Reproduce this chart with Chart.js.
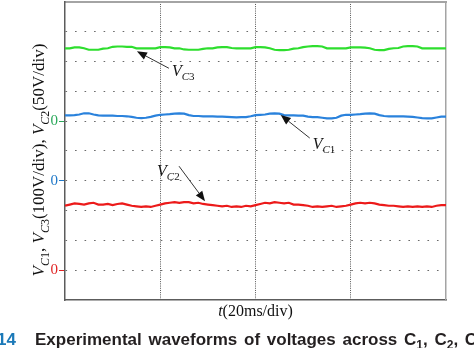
<!DOCTYPE html>
<html>
<head>
<meta charset="utf-8">
<script src="https://cdn.jsdelivr.net/npm/chart.js@4.4.1/dist/chart.umd.min.js"></script>
<style>
  html, body { margin: 0; padding: 0; background: #fff; }
  #wrap { position: relative; width: 474px; height: 348px; overflow: hidden; background: #fff; }
  #scope { position: absolute; left: 0; top: 0; }
  #caption { position: absolute; left: 0; top: 330px; width: 474px; height: 30px; white-space: nowrap;
             font: bold 17px "Liberation Sans", Arial, sans-serif; color: #231f20; }
  #caption .num { position: absolute; left: -3px; top: 0; color: #1b79b8; }
  #caption .txt { position: absolute; left: 35px; top: 0; word-spacing: 2px; }
  #caption sub { font-size: 12px; }
</style>
</head>
<body>
<div id="wrap">
  <canvas id="scope" width="474" height="348"></canvas>
  <div id="caption"><span class="num">14</span><span class="txt">Experimental waveforms of voltages across C<sub>1</sub>, C<sub>2</sub>, C<sub>3</sub></span></div>
</div>
<script>
// Sample times (ms), 1 ms apart over four 20 ms divisions
const timeMs = [
  0, 1, 2, 3, 4, 5, 6, 7, 8, 9, 10, 11, 12, 13, 14, 15, 16, 17, 18, 19,
  20, 21, 22, 23, 24, 25, 26, 27, 28, 29, 30, 31, 32, 33, 34, 35, 36, 37, 38, 39,
  40, 41, 42, 43, 44, 45, 46, 47, 48, 49, 50, 51, 52, 53, 54, 55, 56, 57, 58, 59,
  60, 61, 62, 63, 64, 65, 66, 67, 68, 69, 70, 71, 72, 73, 74, 75, 76, 77, 78, 79, 80
];

// Capacitor voltage V_C3 (V)
const vC3 = [
  244, 244, 247, 247, 244, 239, 239, 239, 243, 244, 249, 250, 250, 249, 249, 244, 244, 244, 244, 244,
  248, 248, 247, 244, 244, 240, 239, 239, 239, 242, 244, 244, 247, 248, 248, 245, 244, 244, 244, 244,
  248, 248, 247, 244, 239, 238, 238, 239, 243, 244, 248, 250, 251, 251, 250, 244, 244, 244, 244, 244,
  247, 247, 247, 246, 244, 239, 238, 238, 242, 244, 245, 250, 251, 251, 250, 244, 244, 244, 244, 244, 244
];

// Capacitor voltage V_C1 (V)
const vC1 = [
  219, 219, 220, 222, 226, 226, 222, 219, 218, 218, 218, 217, 217, 216, 214, 211, 210, 211, 214, 218,
  221, 222, 223, 225, 226, 225, 220, 217, 217, 216, 216, 216, 215, 215, 214, 213, 212, 213, 213, 216,
  220, 221, 222, 225, 226, 225, 220, 219, 219, 218, 218, 215, 213, 213, 211, 209, 209, 211, 218, 221,
  221, 222, 223, 225, 226, 225, 220, 217, 216, 216, 216, 216, 215, 214, 212, 210, 209, 209, 212, 215, 215
];

// Capacitor voltage V_C2 (V)
const vC2 = [
  108, 110, 112, 111, 110, 112, 113, 110, 110, 111, 109, 111, 112, 110, 108, 107, 106, 107, 106, 108,
  110, 112, 113, 114, 113, 114, 114, 112, 113, 111, 110, 109, 108, 107, 108, 106, 107, 106, 108, 107,
  109, 111, 113, 112, 114, 113, 112, 113, 110, 110, 109, 108, 106, 107, 106, 107, 108, 106, 107, 108,
  110, 112, 113, 112, 113, 112, 110, 109, 108, 108, 107, 106, 107, 106, 107, 106, 107, 106, 108, 109, 109
];

// Time divisions (ms) and vertical screen divisions
const timeTicks = [0, 20, 40, 60, 80];
const divisionTicks = [0, 1, 2, 3, 4, 5, 6, 7, 8, 9, 10];

// Channel settings: scale per division and the division where each trace's 0 V marker sits
const channels = [
  { id: 'C3', values: vC3, voltsPerDiv: 100, zeroDiv: 6, line: '#2ede2e', marker: '#2aa85a' },
  { id: 'C1', values: vC1, voltsPerDiv: 100, zeroDiv: 4, line: '#2a82dc', marker: '#1f78c8' },
  { id: 'C2', values: vC2, voltsPerDiv: 50,  zeroDiv: 1, line: '#ec1a1a', marker: '#e02424' }
];

const SERIF = '"Liberation Serif", "Times New Roman", serif';
const DIVS = divisionTicks[divisionTicks.length - 1];

function markerFor(div) { return channels.find(c => c.zeroDiv === div); }

const scales = {
  x: {
    type: 'linear', position: 'bottom', min: timeTicks[0], max: timeTicks[timeTicks.length - 1],
    afterBuildTicks: s => { s.ticks = timeTicks.map(v => ({ value: v })); },
    afterFit: s => { s.height = 48; },
    ticks: { display: false },
    grid: {
      drawTicks: false, lineWidth: 1,
      color: c => (c.tick && (c.tick.value === timeTicks[0] || c.tick.value === timeTicks[timeTicks.length - 1])) ? 'rgba(0,0,0,0)' : '#555'
    },
    border: { display: true, color: '#5c5c5c', width: 1.5, dash: [1, 1.2] }
  },
  xTop: {
    type: 'linear', position: 'top', min: timeTicks[0], max: timeTicks[timeTicks.length - 1],
    afterFit: s => { s.height = 1; },
    ticks: { display: false }, grid: { display: false, drawTicks: false },
    border: { display: true, color: '#a4a4a4', width: 2 }
  },
  yDiv: {
    type: 'linear', position: 'left', min: 0, max: DIVS,
    afterBuildTicks: s => { s.ticks = divisionTicks.map(v => ({ value: v })); },
    afterFit: s => { s.width = 65; },
    ticks: {
      autoSkip: false, padding: 1,
      // tiny line height keeps the marker labels from pushing the plot area inward
      font: { family: SERIF, size: 15, lineHeight: 0.1 },
      color: c => { const m = markerFor(c.tick.value); return m ? m.marker : 'rgba(0,0,0,0)'; },
      callback: v => markerFor(v) ? '0' : ''
    },
    grid: {
      drawTicks: true, tickLength: 6, lineWidth: 1,
      tickColor: c => { const m = markerFor(c.tick.value); return m ? m.marker : 'rgba(0,0,0,0)'; },
      color: c => (c.tick && (c.tick.value === 0 || c.tick.value === DIVS)) ? 'rgba(0,0,0,0)' : '#6a6a6a'
    },
    border: { display: true, color: '#5c5c5c', width: 1.5, dash: [1.6, 7.925] }
  },
  yRight: {
    type: 'linear', position: 'right', min: 0, max: DIVS,
    afterFit: s => { s.width = 28; },
    ticks: { display: false, font: { lineHeight: 0.1 } }, grid: { display: false, drawTicks: false },
    border: { display: true, color: '#a4a4a4', width: 1.5 }
  }
};

// One hidden axis per channel, ranged so that its 0 V falls on its marker division
channels.forEach(ch => {
  scales['y' + ch.id] = {
    type: 'linear', display: false,
    min: -ch.zeroDiv * ch.voltsPerDiv,
    max: (DIVS - ch.zeroDiv) * ch.voltsPerDiv
  };
});

const datasets = channels.map(ch => ({
  label: 'V' + ch.id,
  yAxisID: 'y' + ch.id,
  data: timeMs.map((t, i) => ({ x: t, y: ch.values[i] })),
  borderColor: ch.line,
  borderWidth: 2.2,
  pointRadius: 0,
  tension: 0,
  fill: false
}));

// Text built from runs with different fonts / baseline shifts
function runsWidth(ctx, runs) {
  let w = 0;
  runs.forEach(r => { ctx.font = r.font; w += ctx.measureText(r.t).width; });
  return w;
}
function drawRuns(ctx, runs, x, y) {
  let cx = x;
  runs.forEach(r => {
    ctx.font = r.font;
    ctx.fillText(r.t, cx, y + (r.dy || 0));
    cx += ctx.measureText(r.t).width;
  });
}
function vSub(n, size) {
  const f = size || 16;
  return [
    { t: 'V', font: 'italic ' + f + 'px ' + SERIF },
    { t: 'C', font: 'italic ' + Math.round(f * 0.7) + 'px ' + SERIF, dy: Math.round(f * 0.28) },
    { t: String(n), font: Math.round(f * 0.7) + 'px ' + SERIF, dy: Math.round(f * 0.28) }
  ];
}

// Trace callouts: arrow tip sits on the trace at time t; tail and label are offsets from the tip
const callouts = [
  { ch: 'C3', n: 3, t: 15.1, tipDy: 3,  tail: [32, 17],  text: [35, 25] },
  { ch: 'C1', n: 1, t: 45.3, tipDy: 1,  tail: [29, 23],  text: [32, 34] },
  { ch: 'C2', n: 2, t: 29.4, tipDy: -3, tail: [-26, -35], text: [-48, -25] }
];

function valueAt(values, t) {
  const i = Math.floor(t), f = t - i;
  const a = values[i], b = values[Math.min(i + 1, values.length - 1)];
  return a + (b - a) * f;
}

const scopeText = {
  id: 'scopeText',
  afterDraw(chart) {
    const ctx = chart.ctx;
    const xs = chart.scales.x;
    const area = chart.chartArea;
    ctx.save();
    ctx.fillStyle = '#111';
    ctx.textBaseline = 'alphabetic';

    // vertical axis title
    const t = 17;
    const reg = t + 'px ' + SERIF;
    const yTitle = [].concat(
      vSub(1, t), [{ t: ', ', font: reg }],
      vSub(3, t), [{ t: '(100V/div), ', font: reg }],
      vSub(2, t), [{ t: '(50V/div)', font: reg }]
    );
    ctx.save();
    ctx.translate(44, 160);
    ctx.rotate(-Math.PI / 2);
    drawRuns(ctx, yTitle, -runsWidth(ctx, yTitle) / 2, 0);
    ctx.restore();

    // horizontal axis title
    const xTitle = [{ t: 't', font: 'italic 16px ' + SERIF }, { t: '(20ms/div)', font: '16px ' + SERIF }];
    drawRuns(ctx, xTitle, (area.left + area.right) / 2 - runsWidth(ctx, xTitle) / 2, area.bottom + 16);

    // callouts with arrows
    callouts.forEach(c => {
      const ch = channels.find(k => k.id === c.ch);
      const ys = chart.scales['y' + c.ch];
      const tx = xs.getPixelForValue(c.t);
      const ty = ys.getPixelForValue(valueAt(ch.values, c.t)) + c.tipDy;
      const sx = tx + c.tail[0], sy = ty + c.tail[1];
      const ang = Math.atan2(ty - sy, tx - sx);
      const L = 10, W = 4;
      const bx = tx - L * Math.cos(ang), by = ty - L * Math.sin(ang);
      ctx.strokeStyle = '#333';
      ctx.lineWidth = 1;
      ctx.beginPath();
      ctx.moveTo(sx, sy);
      ctx.lineTo(bx, by);
      ctx.stroke();
      ctx.fillStyle = '#111';
      ctx.beginPath();
      ctx.moveTo(tx, ty);
      ctx.lineTo(bx + W * Math.sin(ang), by - W * Math.cos(ang));
      ctx.lineTo(bx - W * Math.sin(ang), by + W * Math.cos(ang));
      ctx.closePath();
      ctx.fill();
      ctx.fillStyle = '#161616';
      drawRuns(ctx, vSub(c.n, 16), tx + c.text[0], ty + c.text[1]);
    });
    ctx.restore();
  }
};

new Chart(document.getElementById('scope'), {
  type: 'line',
  data: { datasets },
  options: {
    responsive: false,
    animation: false,
    devicePixelRatio: 1,
    layout: { padding: 0 },
    plugins: { legend: { display: false }, tooltip: { enabled: false }, title: { display: false } },
    scales
  },
  plugins: [scopeText]
});
</script>
</body>
</html>
